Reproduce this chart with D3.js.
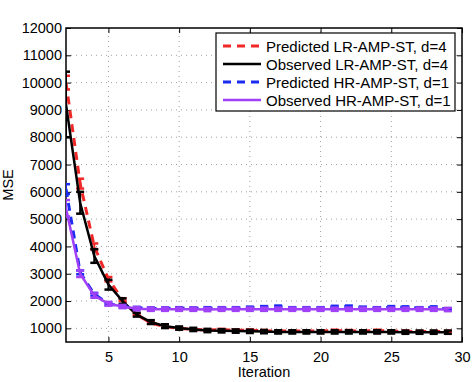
<!DOCTYPE html>
<html>
<head>
<meta charset="utf-8">
<script src="https://cdn.jsdelivr.net/npm/d3@7"></script>
<style>
  body { margin: 0; background: #fff; }
  text { font-family: "Liberation Sans", Arial, sans-serif; }
</style>
</head>
<body>
<div id="plot-container"></div>
<script>
// chart data
var iterations = d3.range(2, 30);
var xTicks = [5, 10, 15, 20, 25, 30];
var yTicks = [1000, 2000, 3000, 4000, 5000, 6000, 7000, 8000, 9000, 10000, 11000, 12000];

var predLR = [10000, 6300, 4000, 2800, 2050, 1500, 1200, 1060, 1000, 960, 940, 950, 930, 930,
              910, 900, 900, 900, 900, 920, 910, 900, 920, 900, 890, 880, 880, 880];
var predLRErr = [250, 180, 110, 80, 45, 35, 35, 35, 30, 30, 30, 30, 30, 30,
                 30, 30, 30, 30, 30, 30, 30, 30, 30, 30, 30, 30, 30, 30];
var obsLR  = [9200, 5600, 3650, 2600, 2000, 1500, 1230, 1080, 1010, 960, 920, 910, 900, 890,
              880, 870, 870, 870, 870, 870, 870, 870, 870, 870, 860, 860, 860, 860];
var obsLRErr = [1200, 400, 250, 180, 100, 70, 70, 70, 60, 60, 60, 60, 60, 60,
                60, 60, 60, 60, 60, 60, 60, 60, 60, 60, 60, 60, 60, 60];
var predHR = [6100, 3050, 2250, 1900, 1800, 1750, 1730, 1730, 1740, 1730, 1740, 1740, 1740, 1760,
              1780, 1800, 1740, 1740, 1740, 1790, 1800, 1760, 1740, 1780, 1770, 1740, 1770, 1700];
var predHRErr = [180, 70, 50, 40, 35, 35, 35, 35, 35, 35, 35, 35, 35, 35,
                 35, 35, 35, 35, 35, 35, 35, 35, 35, 35, 35, 35, 35, 35];
var obsHR  = [5400, 3000, 2200, 1900, 1800, 1720, 1700, 1700, 1700, 1700, 1690, 1700, 1700, 1700,
              1700, 1700, 1700, 1700, 1700, 1700, 1700, 1700, 1700, 1700, 1700, 1700, 1700, 1690];
var obsHRErr = [300, 120, 80, 70, 60, 60, 60, 60, 60, 60, 60, 60, 60, 60,
                60, 60, 60, 60, 60, 60, 60, 60, 60, 60, 60, 60, 60, 60];

var seriesNames = ["Predicted LR-AMP-ST, d=4", "Observed LR-AMP-ST, d=4",
                   "Predicted HR-AMP-ST, d=1", "Observed HR-AMP-ST, d=1"];
var colors = ["#f02828", "#000000", "#1a2cf0", "#a040f8"];
var dashes = ["8,6", null, "8,6", null];

var width = 474, height = 382;
var margin = {left: 66, top: 28, right: 12, bottom: 40};

var svg = d3.select("#plot-container")
            .append("svg")
            .attr("width", width)
            .attr("height", height);

var xScale = d3.scaleLinear().domain([2, 30]).range([margin.left, width - margin.right]);
var yScale = d3.scaleLinear().domain([500, 12000]).range([height - margin.bottom, margin.top]);

var x0 = xScale.range()[0], x1 = xScale.range()[1];
var y0 = yScale.range()[0], y1 = yScale.range()[1];

// dotted grid
svg.append("g").selectAll("line").data(xTicks.filter(function(t){ return t < 30; })).enter()
   .append("line")
   .attr("x1", function(d){ return xScale(d); }).attr("x2", function(d){ return xScale(d); })
   .attr("y1", y0).attr("y2", y1)
   .attr("stroke", "#a0a0a0").attr("stroke-width", 1).attr("stroke-dasharray", "1,4");
svg.append("g").selectAll("line").data(yTicks.filter(function(t){ return t < 12000; })).enter()
   .append("line")
   .attr("y1", function(d){ return yScale(d); }).attr("y2", function(d){ return yScale(d); })
   .attr("x1", x0).attr("x2", x1)
   .attr("stroke", "#a0a0a0").attr("stroke-width", 1).attr("stroke-dasharray", "1,4");

// axes, ticks pointing inward
svg.append("g").attr("transform", "translate(0," + y0 + ")")
   .call(d3.axisBottom(xScale).tickValues(xTicks).tickFormat(d3.format("d"))
           .tickSizeInner(-5).tickSizeOuter(0).tickPadding(10));
svg.append("g").attr("transform", "translate(0," + y1 + ")")
   .call(d3.axisTop(xScale).tickValues(xTicks).tickSizeInner(-5).tickSizeOuter(0).tickFormat(""));
svg.append("g").attr("transform", "translate(" + x0 + ",0)")
   .call(d3.axisLeft(yScale).tickValues(yTicks).tickFormat(d3.format("d"))
           .tickSizeInner(-5).tickSizeOuter(0).tickPadding(4));
svg.append("g").attr("transform", "translate(" + x1 + ",0)")
   .call(d3.axisRight(yScale).tickValues(yTicks).tickSizeInner(-5).tickSizeOuter(0).tickFormat(""));

svg.selectAll(".domain").remove();
svg.selectAll(".tick line").attr("stroke", "#000");
svg.selectAll(".tick text").attr("font-size", 14.5).attr("fill", "#000")
   .style("font-family", "'Liberation Sans', Arial, sans-serif");

// box
svg.append("rect")
   .attr("x", x0).attr("y", y1)
   .attr("width", x1 - x0).attr("height", y0 - y1)
   .attr("fill", "none").attr("stroke", "#000").attr("stroke-width", 1.5);

// clip for plotting area
svg.append("clipPath").attr("id", "clip")
   .append("rect").attr("x", x0).attr("y", y1).attr("width", x1 - x0).attr("height", y0 - y1);

var plot = svg.append("g").attr("clip-path", "url(#clip)");

var line = d3.line()
             .x(function(d){ return xScale(d.x); })
             .y(function(d){ return yScale(d.y); });

var allSeries = [
  {vals: predLR, err: predLRErr},
  {vals: obsLR, err: obsLRErr},
  {vals: predHR, err: predHRErr},
  {vals: obsHR, err: obsHRErr}
];

allSeries.forEach(function(s, i){
  var pts = iterations.map(function(it, k){ return {x: it, y: s.vals[k], e: s.err[k]}; });
  var g = plot.append("g");
  // error bars
  var eb = g.selectAll("g.eb").data(pts).enter().append("g");
  eb.append("line")
    .attr("x1", function(d){ return xScale(d.x); }).attr("x2", function(d){ return xScale(d.x); })
    .attr("y1", function(d){ return yScale(d.y - d.e); }).attr("y2", function(d){ return yScale(d.y + d.e); })
    .attr("stroke", colors[i]).attr("stroke-width", 2);
  eb.append("line")
    .attr("x1", function(d){ return xScale(d.x) - 4; }).attr("x2", function(d){ return xScale(d.x) + 4; })
    .attr("y1", function(d){ return yScale(d.y - d.e); }).attr("y2", function(d){ return yScale(d.y - d.e); })
    .attr("stroke", colors[i]).attr("stroke-width", 2.5);
  eb.append("line")
    .attr("x1", function(d){ return xScale(d.x) - 4; }).attr("x2", function(d){ return xScale(d.x) + 4; })
    .attr("y1", function(d){ return yScale(d.y + d.e); }).attr("y2", function(d){ return yScale(d.y + d.e); })
    .attr("stroke", colors[i]).attr("stroke-width", 2.5);
  g.append("path")
   .datum(pts)
   .attr("d", line)
   .attr("fill", "none")
   .attr("stroke", colors[i])
   .attr("stroke-width", dashes[i] ? 3 : 2.5)
   .attr("stroke-dasharray", dashes[i]);
});

// axis labels
svg.append("text")
   .attr("x", (x0 + x1) / 2).attr("y", 377)
   .attr("text-anchor", "middle").attr("font-size", 14.5)
   .text("Iteration");
svg.append("text")
   .attr("transform", "translate(13," + ((y0 + y1) / 2) + ") rotate(-90)")
   .attr("text-anchor", "middle").attr("font-size", 14.5)
   .text("MSE");

// legend
var legend = svg.append("g");
legend.append("rect")
   .attr("x", 216).attr("y", 33).attr("width", 239).attr("height", 78)
   .attr("fill", "#fff").attr("stroke", "#000").attr("stroke-width", 1.2);
seriesNames.forEach(function(name, i){
  var ly = 46 + i * 18;
  legend.append("line")
    .attr("x1", 223).attr("x2", 261).attr("y1", ly).attr("y2", ly)
    .attr("stroke", colors[i]).attr("stroke-width", dashes[i] ? 3 : 2.5)
    .attr("stroke-dasharray", dashes[i]);
  legend.append("text")
    .attr("x", 266).attr("y", ly + 5.5)
    .attr("font-size", 15)
    .text(name);
});
</script>
</body>
</html>
